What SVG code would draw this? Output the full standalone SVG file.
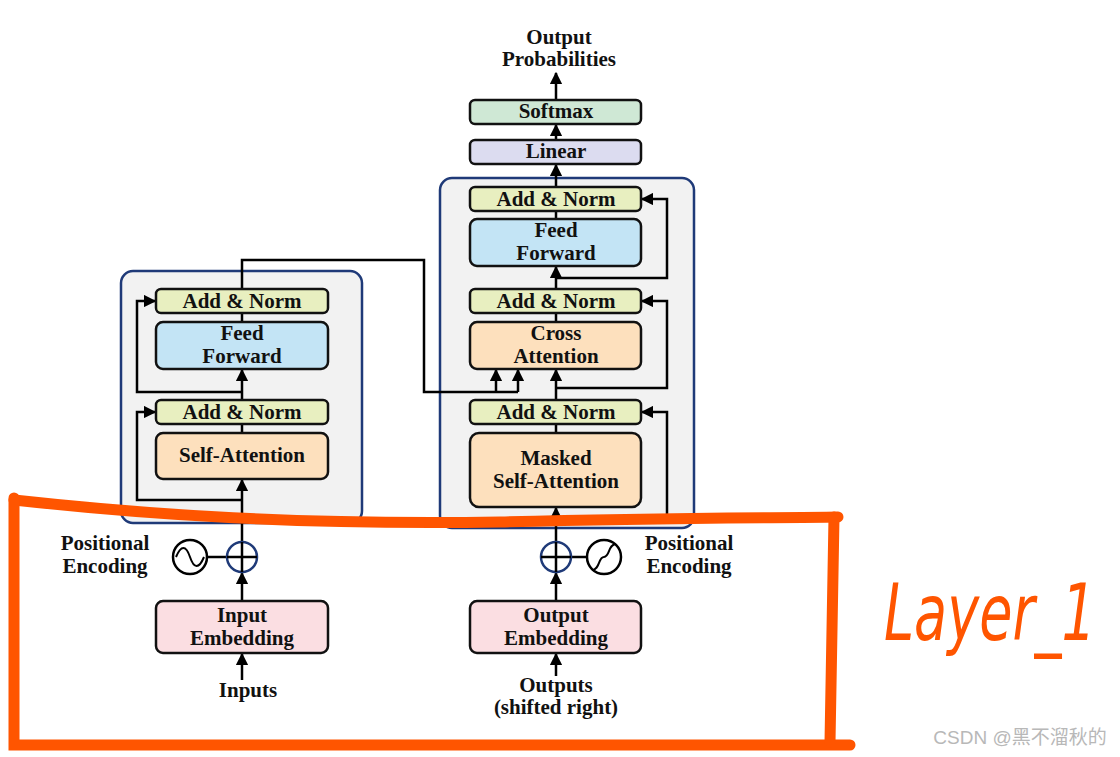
<svg xmlns="http://www.w3.org/2000/svg" width="1120" height="757" viewBox="0 0 1120 757">
<defs>
<marker id="a" viewBox="0 0 10 10" refX="9" refY="5" markerWidth="5" markerHeight="5" orient="auto"><path d="M0,0 L10,5 L0,10 z" fill="#000"/></marker>
<style>
text{font-family:"Liberation Serif",serif;font-weight:bold;font-size:21px;text-anchor:middle;fill:#111}
.b{stroke:#111;stroke-width:2.5}
.an{fill:#e8efc0}.ff{fill:#c3e4f5}.at{fill:#fde0bd}.em{fill:#fbdee2}
.c path,.c line,.c polyline{fill:none;stroke:#000;stroke-width:2.5}
.o{fill:none;stroke:#ff5500;stroke-width:11;stroke-linecap:round}
</style>
</defs>
<rect width="1120" height="757" fill="#fff"/>
<g id="encoder"><rect x="121" y="271" width="241" height="252" rx="12" fill="#f2f2f2" stroke="#1f3a78" stroke-width="2.5"/></g>
<g id="decoder"><rect x="440" y="178" width="254" height="350" rx="12" fill="#f2f2f2" stroke="#1f3a78" stroke-width="2.5"/></g>
<g class="c" id="connectors">
<line x1="242" y1="653" x2="242" y2="573" marker-end="url(#a)"/>
<line x1="242" y1="542" x2="242" y2="480" marker-end="url(#a)"/>
<polyline points="242,500 137,500 137,412 155,412" marker-end="url(#a)"/>
<line x1="242" y1="433" x2="242" y2="424"/>
<line x1="242" y1="400" x2="242" y2="370" marker-end="url(#a)"/>
<polyline points="242,392 137,392 137,301 155,301" marker-end="url(#a)"/>
<line x1="242" y1="322" x2="242" y2="313"/>
<polyline points="242,289 242,260 424,260 424,392 518,392"/>
<line x1="496" y1="392" x2="496" y2="370" marker-end="url(#a)"/>
<line x1="518" y1="392" x2="518" y2="370" marker-end="url(#a)"/>
<line x1="207" y1="557" x2="227" y2="557"/>
<line x1="556" y1="653" x2="556" y2="573" marker-end="url(#a)"/>
<line x1="556" y1="542" x2="556" y2="508" marker-end="url(#a)"/>
<polyline points="556,518 667,518 667,412 642,412" marker-end="url(#a)"/>
<line x1="556" y1="433" x2="556" y2="424"/>
<line x1="556" y1="400" x2="556" y2="370" marker-end="url(#a)"/>
<polyline points="556,388 667,388 667,301 642,301" marker-end="url(#a)"/>
<line x1="556" y1="322" x2="556" y2="313"/>
<line x1="556" y1="289" x2="556" y2="267" marker-end="url(#a)"/>
<polyline points="556,278 667,278 667,199 642,199" marker-end="url(#a)"/>
<line x1="556" y1="219" x2="556" y2="211"/>
<line x1="556" y1="187" x2="556" y2="165" marker-end="url(#a)"/>
<line x1="556" y1="140" x2="556" y2="125" marker-end="url(#a)"/>
<line x1="556" y1="100" x2="556" y2="73" marker-end="url(#a)"/>
<line x1="571" y1="557" x2="587" y2="557"/>
<line x1="242" y1="680" x2="242" y2="654" marker-end="url(#a)"/>
<line x1="556" y1="676" x2="556" y2="654" marker-end="url(#a)"/>
</g>
<g id="enc-an2"><rect class="b an" x="156" y="289" width="172" height="24" rx="5"/><text x="242" y="308">Add &amp; Norm</text></g>
<g id="enc-ff"><rect class="b ff" x="156" y="322" width="172" height="47" rx="7"/><text x="242" y="340">Feed</text><text x="242" y="363">Forward</text></g>
<g id="enc-an1"><rect class="b an" x="156" y="400" width="172" height="24" rx="5"/><text x="242" y="419">Add &amp; Norm</text></g>
<g id="enc-sa"><rect class="b at" x="156" y="433" width="172" height="46" rx="7"/><text x="242" y="462">Self-Attention</text></g>
<g id="softmax"><rect class="b" fill="#cfe8d5" x="470" y="100" width="171" height="24" rx="5"/><text x="556" y="118">Softmax</text></g>
<g id="linear"><rect class="b" fill="#dcdcf0" x="470" y="140" width="171" height="24" rx="5"/><text x="556" y="158">Linear</text></g>
<g id="dec-an3"><rect class="b an" x="470" y="187" width="171" height="24" rx="5"/><text x="556" y="206">Add &amp; Norm</text></g>
<g id="dec-ff"><rect class="b ff" x="470" y="219" width="171" height="47" rx="7"/><text x="556" y="237">Feed</text><text x="556" y="260">Forward</text></g>
<g id="dec-an2"><rect class="b an" x="470" y="289" width="171" height="24" rx="5"/><text x="556" y="308">Add &amp; Norm</text></g>
<g id="dec-ca"><rect class="b at" x="470" y="322" width="171" height="47" rx="7"/><text x="556" y="340">Cross</text><text x="556" y="363">Attention</text></g>
<g id="dec-an1"><rect class="b an" x="470" y="400" width="171" height="24" rx="5"/><text x="556" y="419">Add &amp; Norm</text></g>
<g id="dec-msa"><rect class="b at" x="470" y="433" width="171" height="74" rx="9"/><text x="556" y="465">Masked</text><text x="556" y="488">Self-Attention</text></g>
<g id="enc-plus"><circle cx="242" cy="557" r="15" fill="#fff" stroke="#1f3a78" stroke-width="2.5"/><path d="M227,557h30M242,542v30" stroke="#000" stroke-width="2.5"/></g>
<g id="enc-pe"><circle cx="190" cy="557" r="17" fill="#fff" stroke="#000" stroke-width="2.5"/><path d="M176,557 C181,545 186,545 190,557 C194,569 199,569 204,557" fill="none" stroke="#000" stroke-width="2"/></g>
<g id="dec-plus"><circle cx="556" cy="557" r="15" fill="#fff" stroke="#1f3a78" stroke-width="2.5"/><path d="M541,557h30M556,542v30" stroke="#000" stroke-width="2.5"/></g>
<g id="dec-pe"><circle cx="604" cy="557" r="17" fill="#fff" stroke="#000" stroke-width="2.5"/><path d="M592,570 C600,570 598,557 604,557 C610,557 608,544 616,544" fill="none" stroke="#000" stroke-width="2"/></g>
<g id="in-emb"><rect class="b em" x="156" y="601" width="172" height="52" rx="7"/><text x="242" y="622">Input</text><text x="242" y="645">Embedding</text></g>
<g id="out-emb"><rect class="b em" x="470" y="601" width="171" height="52" rx="7"/><text x="556" y="622">Output</text><text x="556" y="645">Embedding</text></g>
<text x="105" y="550">Positional</text><text x="105" y="573">Encoding</text>
<text x="689" y="550">Positional</text><text x="689" y="573">Encoding</text>
<text x="248" y="697">Inputs</text>
<text x="556" y="692">Outputs</text><text x="556" y="714">(shifted right)</text>
<text x="559" y="44">Output</text><text x="559" y="66">Probabilities</text>
<g id="annotation">
<path class="o" d="M14,500 C150,515 300,525 500,522 C650,518 760,518 838,517"/>
<path class="o" d="M14,498 L14,745 L850,745"/>
<path class="o" d="M834,517 L830,742"/>
<text x="990" y="640" textLength="212" lengthAdjust="spacingAndGlyphs" style="font-family:'DejaVu Sans',sans-serif;font-style:italic;font-weight:normal;font-size:78px;fill:#ff5500">Layer_1</text>
</g>
<text x="1020" y="744" style="font-family:'Liberation Sans','Noto Sans CJK SC',sans-serif;font-weight:normal;font-size:19px;fill:#b8b8b8">CSDN @黑不溜秋的</text>
</svg>
